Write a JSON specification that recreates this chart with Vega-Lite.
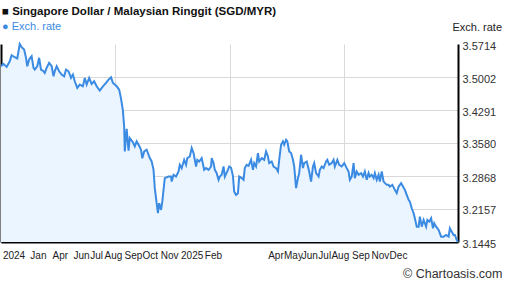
{
  "$schema": "https://vega.github.io/schema/vega-lite/v6.json",
  "width": 457,
  "height": 198,
  "autosize": {"type": "none"},
  "padding": {"left": 1, "top": 44, "right": 49, "bottom": 46},
  "background": "white",
  "config": {"view": {"stroke": null}, "font": "Liberation Sans"},
  "title": {
    "text": "■ Singapore Dollar / Malaysian Ringgit (SGD/MYR)",
    "subtitle": "● Exch. rate",
    "anchor": "start",
    "frame": "group",
    "font": "Liberation Sans",
    "fontSize": 11.5,
    "fontWeight": "bold",
    "color": "#111111",
    "subtitleFont": "Liberation Sans",
    "subtitleFontSize": 11,
    "subtitleColor": "#3b8be3",
    "subtitlePadding": 4,
    "offset": -11,
    "dx": 1
  },
  "data": {"values": [
    {"date": "2024-01-20", "rate": 3.5234}, {"date": "2024-01-24", "rate": 3.5286}, {"date": "2024-01-29", "rate": 3.5221},
    {"date": "2024-02-03", "rate": 3.5342}, {"date": "2024-02-06", "rate": 3.5472}, {"date": "2024-02-11", "rate": 3.5429},
    {"date": "2024-02-15", "rate": 3.5401}, {"date": "2024-02-19", "rate": 3.5714}, {"date": "2024-02-22", "rate": 3.5645},
    {"date": "2024-02-26", "rate": 3.5595}, {"date": "2024-02-29", "rate": 3.5416}, {"date": "2024-03-02", "rate": 3.5234},
    {"date": "2024-03-05", "rate": 3.5379}, {"date": "2024-03-09", "rate": 3.5450}, {"date": "2024-03-12", "rate": 3.5200},
    {"date": "2024-03-14", "rate": 3.5163}, {"date": "2024-03-18", "rate": 3.5234}, {"date": "2024-03-21", "rate": 3.5416},
    {"date": "2024-03-24", "rate": 3.5163}, {"date": "2024-03-28", "rate": 3.5126}, {"date": "2024-03-30", "rate": 3.5091},
    {"date": "2024-04-02", "rate": 3.5200}, {"date": "2024-04-06", "rate": 3.5308}, {"date": "2024-04-10", "rate": 3.5234},
    {"date": "2024-04-13", "rate": 3.5018}, {"date": "2024-04-15", "rate": 3.5126}, {"date": "2024-04-18", "rate": 3.5234},
    {"date": "2024-04-22", "rate": 3.5126}, {"date": "2024-04-26", "rate": 3.5055}, {"date": "2024-04-30", "rate": 3.5018},
    {"date": "2024-05-03", "rate": 3.5163}, {"date": "2024-05-07", "rate": 3.5126}, {"date": "2024-05-11", "rate": 3.4983},
    {"date": "2024-05-14", "rate": 3.5055}, {"date": "2024-05-17", "rate": 3.4910}, {"date": "2024-05-21", "rate": 3.4767},
    {"date": "2024-05-25", "rate": 3.4839}, {"date": "2024-05-30", "rate": 3.4802}, {"date": "2024-06-02", "rate": 3.4983},
    {"date": "2024-06-05", "rate": 3.4839}, {"date": "2024-06-09", "rate": 3.4983}, {"date": "2024-06-13", "rate": 3.4854},
    {"date": "2024-06-17", "rate": 3.4910}, {"date": "2024-06-21", "rate": 3.4802}, {"date": "2024-06-26", "rate": 3.4709},
    {"date": "2024-07-01", "rate": 3.4802}, {"date": "2024-07-06", "rate": 3.4875}, {"date": "2024-07-10", "rate": 3.4947},
    {"date": "2024-07-14", "rate": 3.4996}, {"date": "2024-07-17", "rate": 3.4875}, {"date": "2024-07-20", "rate": 3.4839},
    {"date": "2024-07-23", "rate": 3.4802}, {"date": "2024-07-27", "rate": 3.4730}, {"date": "2024-07-30", "rate": 3.4536},
    {"date": "2024-08-02", "rate": 3.4277}, {"date": "2024-08-04", "rate": 3.3931}, {"date": "2024-08-05", "rate": 3.3397},
    {"date": "2024-08-08", "rate": 3.3887}, {"date": "2024-08-11", "rate": 3.3412}, {"date": "2024-08-13", "rate": 3.3686},
    {"date": "2024-08-18", "rate": 3.3596}, {"date": "2024-08-21", "rate": 3.3505}, {"date": "2024-08-24", "rate": 3.3613},
    {"date": "2024-08-28", "rate": 3.3520}, {"date": "2024-08-31", "rate": 3.3434}, {"date": "2024-09-02", "rate": 3.3250},
    {"date": "2024-09-05", "rate": 3.3397}, {"date": "2024-09-09", "rate": 3.3434}, {"date": "2024-09-12", "rate": 3.3326},
    {"date": "2024-09-14", "rate": 3.3254}, {"date": "2024-09-17", "rate": 3.3181}, {"date": "2024-09-20", "rate": 3.3001},
    {"date": "2024-09-22", "rate": 3.2606}, {"date": "2024-09-25", "rate": 3.2282}, {"date": "2024-09-27", "rate": 3.2065},
    {"date": "2024-09-29", "rate": 3.2282}, {"date": "2024-10-02", "rate": 3.2137}, {"date": "2024-10-04", "rate": 3.2316},
    {"date": "2024-10-06", "rate": 3.2569}, {"date": "2024-10-08", "rate": 3.2822}, {"date": "2024-10-14", "rate": 3.2856},
    {"date": "2024-10-18", "rate": 3.2856}, {"date": "2024-10-19", "rate": 3.2748}, {"date": "2024-10-22", "rate": 3.2893},
    {"date": "2024-10-26", "rate": 3.2856}, {"date": "2024-10-30", "rate": 3.2965}, {"date": "2024-11-01", "rate": 3.3109},
    {"date": "2024-11-04", "rate": 3.3038}, {"date": "2024-11-08", "rate": 3.3217}, {"date": "2024-11-11", "rate": 3.3109},
    {"date": "2024-11-13", "rate": 3.3254}, {"date": "2024-11-17", "rate": 3.3289}, {"date": "2024-11-20", "rate": 3.3470},
    {"date": "2024-11-23", "rate": 3.3362}, {"date": "2024-11-27", "rate": 3.3073}, {"date": "2024-11-29", "rate": 3.3217},
    {"date": "2024-12-02", "rate": 3.3181}, {"date": "2024-12-06", "rate": 3.3254}, {"date": "2024-12-10", "rate": 3.3001},
    {"date": "2024-12-13", "rate": 3.3038}, {"date": "2024-12-17", "rate": 3.3001}, {"date": "2024-12-21", "rate": 3.3073},
    {"date": "2024-12-22", "rate": 3.3254}, {"date": "2024-12-25", "rate": 3.3146}, {"date": "2024-12-27", "rate": 3.3001},
    {"date": "2024-12-30", "rate": 3.2930}, {"date": "2025-01-02", "rate": 3.2785}, {"date": "2025-01-04", "rate": 3.2856},
    {"date": "2025-01-07", "rate": 3.2893}, {"date": "2025-01-10", "rate": 3.3073}, {"date": "2025-01-12", "rate": 3.2856},
    {"date": "2025-01-17", "rate": 3.3001}, {"date": "2025-01-19", "rate": 3.3073}, {"date": "2025-01-22", "rate": 3.3045},
    {"date": "2025-01-25", "rate": 3.2872}, {"date": "2025-01-27", "rate": 3.2532}, {"date": "2025-01-30", "rate": 3.2461},
    {"date": "2025-02-02", "rate": 3.2498}, {"date": "2025-02-04", "rate": 3.2856}, {"date": "2025-02-08", "rate": 3.2822},
    {"date": "2025-02-11", "rate": 3.2785}, {"date": "2025-02-13", "rate": 3.3038}, {"date": "2025-02-16", "rate": 3.3109},
    {"date": "2025-02-19", "rate": 3.3088}, {"date": "2025-02-23", "rate": 3.3217}, {"date": "2025-02-26", "rate": 3.3001},
    {"date": "2025-02-28", "rate": 3.3146}, {"date": "2025-03-03", "rate": 3.3073}, {"date": "2025-03-06", "rate": 3.3362},
    {"date": "2025-03-08", "rate": 3.3181}, {"date": "2025-03-12", "rate": 3.3254}, {"date": "2025-03-16", "rate": 3.3217},
    {"date": "2025-03-19", "rate": 3.3397}, {"date": "2025-03-22", "rate": 3.3289}, {"date": "2025-03-24", "rate": 3.3146},
    {"date": "2025-03-28", "rate": 3.3181}, {"date": "2025-03-31", "rate": 3.3073}, {"date": "2025-04-04", "rate": 3.3038},
    {"date": "2025-04-07", "rate": 3.2965}, {"date": "2025-04-09", "rate": 3.3217}, {"date": "2025-04-12", "rate": 3.3542},
    {"date": "2025-04-15", "rate": 3.3613}, {"date": "2025-04-17", "rate": 3.3542}, {"date": "2025-04-20", "rate": 3.3650},
    {"date": "2025-04-22", "rate": 3.3613}, {"date": "2025-04-25", "rate": 3.3397}, {"date": "2025-04-28", "rate": 3.3362},
    {"date": "2025-05-01", "rate": 3.3217}, {"date": "2025-05-03", "rate": 3.3073}, {"date": "2025-05-06", "rate": 3.2606},
    {"date": "2025-05-09", "rate": 3.2822}, {"date": "2025-05-11", "rate": 3.2930}, {"date": "2025-05-14", "rate": 3.3326},
    {"date": "2025-05-17", "rate": 3.3038}, {"date": "2025-05-19", "rate": 3.3146}, {"date": "2025-05-23", "rate": 3.3181},
    {"date": "2025-05-27", "rate": 3.2965}, {"date": "2025-05-30", "rate": 3.2748}, {"date": "2025-06-02", "rate": 3.3073},
    {"date": "2025-06-04", "rate": 3.3146}, {"date": "2025-06-07", "rate": 3.2930}, {"date": "2025-06-11", "rate": 3.2856},
    {"date": "2025-06-13", "rate": 3.3001}, {"date": "2025-06-16", "rate": 3.3073}, {"date": "2025-06-19", "rate": 3.3038},
    {"date": "2025-06-23", "rate": 3.3181}, {"date": "2025-06-25", "rate": 3.3217}, {"date": "2025-06-28", "rate": 3.3109},
    {"date": "2025-07-02", "rate": 3.3146}, {"date": "2025-07-05", "rate": 3.3217}, {"date": "2025-07-07", "rate": 3.3073},
    {"date": "2025-07-11", "rate": 3.3217}, {"date": "2025-07-14", "rate": 3.3109}, {"date": "2025-07-18", "rate": 3.3073},
    {"date": "2025-07-22", "rate": 3.3146}, {"date": "2025-07-26", "rate": 3.3038}, {"date": "2025-07-29", "rate": 3.2965},
    {"date": "2025-07-31", "rate": 3.2785}, {"date": "2025-08-03", "rate": 3.2856}, {"date": "2025-08-06", "rate": 3.3146},
    {"date": "2025-08-08", "rate": 3.2822}, {"date": "2025-08-11", "rate": 3.2965}, {"date": "2025-08-14", "rate": 3.2893},
    {"date": "2025-08-18", "rate": 3.2930}, {"date": "2025-08-21", "rate": 3.2856}, {"date": "2025-08-24", "rate": 3.2965},
    {"date": "2025-08-27", "rate": 3.2785}, {"date": "2025-08-30", "rate": 3.2930}, {"date": "2025-09-01", "rate": 3.2856},
    {"date": "2025-09-04", "rate": 3.2893}, {"date": "2025-09-07", "rate": 3.2822}, {"date": "2025-09-09", "rate": 3.2930},
    {"date": "2025-09-12", "rate": 3.2785}, {"date": "2025-09-15", "rate": 3.2893}, {"date": "2025-09-17", "rate": 3.2748},
    {"date": "2025-09-20", "rate": 3.2965}, {"date": "2025-09-23", "rate": 3.2748}, {"date": "2025-09-28", "rate": 3.2677},
    {"date": "2025-10-01", "rate": 3.2677}, {"date": "2025-10-03", "rate": 3.2640}, {"date": "2025-10-07", "rate": 3.2677},
    {"date": "2025-10-11", "rate": 3.2569}, {"date": "2025-10-14", "rate": 3.2498}, {"date": "2025-10-17", "rate": 3.2640},
    {"date": "2025-10-21", "rate": 3.2714}, {"date": "2025-10-24", "rate": 3.2640}, {"date": "2025-10-27", "rate": 3.2569},
    {"date": "2025-10-30", "rate": 3.2461}, {"date": "2025-11-02", "rate": 3.2353}, {"date": "2025-11-04", "rate": 3.2316},
    {"date": "2025-11-07", "rate": 3.2173}, {"date": "2025-11-10", "rate": 3.2065}, {"date": "2025-11-12", "rate": 3.1957},
    {"date": "2025-11-15", "rate": 3.1776}, {"date": "2025-11-18", "rate": 3.1776}, {"date": "2025-11-20", "rate": 3.1992},
    {"date": "2025-11-23", "rate": 3.1776}, {"date": "2025-11-26", "rate": 3.1921}, {"date": "2025-11-30", "rate": 3.1776},
    {"date": "2025-12-02", "rate": 3.1921}, {"date": "2025-12-05", "rate": 3.1884}, {"date": "2025-12-08", "rate": 3.1957},
    {"date": "2025-12-11", "rate": 3.1741}, {"date": "2025-12-13", "rate": 3.1849}, {"date": "2025-12-16", "rate": 3.1776},
    {"date": "2025-12-20", "rate": 3.1704}, {"date": "2025-12-24", "rate": 3.1560}, {"date": "2025-12-28", "rate": 3.1560},
    {"date": "2026-01-01", "rate": 3.1596}, {"date": "2026-01-05", "rate": 3.1560}, {"date": "2026-01-07", "rate": 3.1741},
    {"date": "2026-01-10", "rate": 3.1668}, {"date": "2026-01-13", "rate": 3.1596}, {"date": "2026-01-15", "rate": 3.1596},
    {"date": "2026-01-18", "rate": 3.1488}, {"date": "2026-01-20", "rate": 3.1445}
  ]},
  "resolve": {"axis": {"x": "independent", "y": "independent"}},
  "layer": [
    {
      "mark": {"type": "area", "color": "#ebf5ff", "clip": true},
      "encoding": {
        "x": {
          "field": "date", "type": "temporal",
          "scale": {"type": "utc", "domain": [{"year": 2024, "month": 1, "date": 20, "utc": true}, {"year": 2026, "month": 1, "date": 20, "utc": true}]},
          "axis": {
            "orient": "bottom", "title": null, "labels": false, "ticks": false, "domain": false,
            "grid": true, "gridColor": "#d9d9d9", "gridWidth": 1,
            "values": [
              {"year": 2024, "month": 7, "date": 20, "hours": 18, "utc": true},
              {"year": 2025, "month": 1, "date": 19, "hours": 12, "utc": true},
              {"year": 2025, "month": 7, "date": 21, "hours": 6, "utc": true}
            ]
          }
        },
        "y": {
          "field": "rate", "type": "quantitative",
          "scale": {"domain": [3.1445, 3.5714], "zero": false, "nice": false},
          "axis": {
            "orient": "left", "title": null, "labels": false, "ticks": false,
            "domain": true, "domainColor": "#000000", "domainWidth": 2,
            "grid": true, "gridColor": "#d9d9d9", "gridWidth": 1,
            "values": [3.2157, 3.2868, 3.358, 3.4291, 3.5002]
          }
        }
      }
    },
    {
      "mark": {"type": "line", "color": "#3b8be3", "strokeWidth": 2},
      "encoding": {
        "x": {
          "field": "date", "type": "temporal",
          "axis": {
            "orient": "bottom", "grid": false, "ticks": false, "tickSize": 0,
            "domain": true, "domainColor": "#000000", "domainWidth": 2,
            "labelFont": "Liberation Sans",
            "labelFontSize": {"condition": {"test": "datum.label == '2024' || datum.label == '2025'", "value": 11}, "value": 10},
            "labelColor": "#222222",
            "labelPadding": 8, "labelOverlap": false, "labelAlign": "center", "labelFlush": false,
            "values": [
              {"year": 2024, "month": 2, "date": 9, "utc": true},
              {"year": 2024, "month": 3, "date": 19, "utc": true},
              {"year": 2024, "month": 4, "date": 23, "utc": true},
              {"year": 2024, "month": 5, "date": 27, "utc": true},
              {"year": 2024, "month": 6, "date": 20, "utc": true},
              {"year": 2024, "month": 7, "date": 17, "utc": true},
              {"year": 2024, "month": 8, "date": 18, "utc": true},
              {"year": 2024, "month": 9, "date": 14, "utc": true},
              {"year": 2024, "month": 10, "date": 15, "utc": true},
              {"year": 2024, "month": 11, "date": 20, "utc": true},
              {"year": 2024, "month": 12, "date": 24, "utc": true},
              {"year": 2025, "month": 4, "date": 3, "utc": true},
              {"year": 2025, "month": 5, "date": 1, "utc": true},
              {"year": 2025, "month": 5, "date": 27, "utc": true},
              {"year": 2025, "month": 6, "date": 20, "utc": true},
              {"year": 2025, "month": 7, "date": 15, "utc": true},
              {"year": 2025, "month": 8, "date": 17, "utc": true},
              {"year": 2025, "month": 9, "date": 17, "utc": true},
              {"year": 2025, "month": 10, "date": 16, "utc": true}
            ],
            "labelExpr": "['2024','Jan','Apr','Jun','Jul','Aug','Sep','Oct','Nov','2025','Feb','Apr','May','Jun','Jul','Aug','Sep','Nov','Dec'][indexof(['2024-02-09','2024-03-19','2024-04-23','2024-05-27','2024-06-20','2024-07-17','2024-08-18','2024-09-14','2024-10-15','2024-11-20','2024-12-24','2025-04-03','2025-05-01','2025-05-27','2025-06-20','2025-07-15','2025-08-17','2025-09-17','2025-10-16'], utcFormat(datum.value, '%Y-%m-%d'))]",
            "title": "© Chartoasis.com",
            "titleFont": "Liberation Sans", "titleFontSize": 12.5, "titleFontWeight": "normal", "titleColor": "#333333",
            "titleAlign": "right", "titleAnchor": null, "titleBaseline": "alphabetic",
            "titleX": 501, "titleY": 35
          }
        },
        "y": {
          "field": "rate", "type": "quantitative",
          "axis": {
            "orient": "right", "grid": false, "ticks": false, "tickSize": 0,
            "domain": true, "domainColor": "#000000", "domainWidth": 2,
            "labelFont": "Liberation Sans", "labelFontSize": 11, "labelColor": "#333333",
            "labelPadding": 4, "labelOffset": 2, "labelFlush": false, "labelOverlap": false,
            "values": [3.1445, 3.2157, 3.2868, 3.358, 3.4291, 3.5002, 3.5714],
            "labelExpr": "format(datum.value, '.4f')",
            "title": "Exch. rate",
            "titleFont": "Liberation Sans", "titleFontSize": 11, "titleFontWeight": "normal", "titleColor": "#222222",
            "titleAngle": 0, "titleAlign": "left", "titleBaseline": "alphabetic",
            "titleX": -6, "titleY": -14
          }
        }
      }
    }
  ]
}
